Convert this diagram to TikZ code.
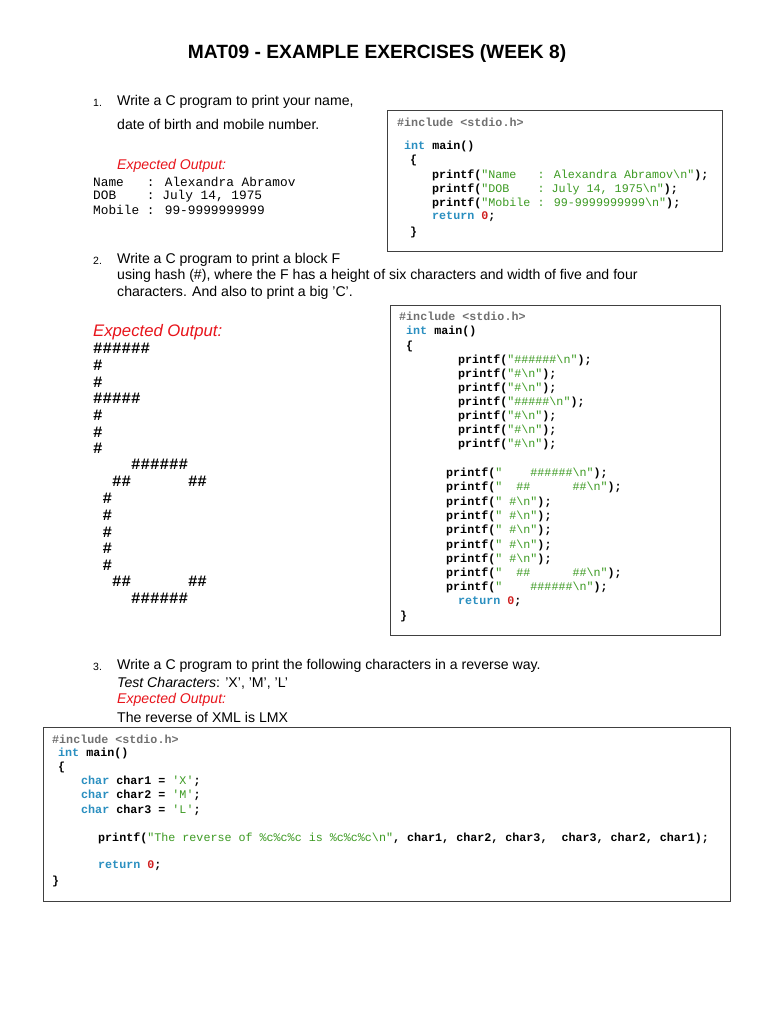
\documentclass[tikz,border=0pt]{standalone}
\usepackage{fontspec}
\setmainfont{Liberation Sans}
\newfontfamily\cod[Ligatures=NoCommon]{Liberation Mono}
\definecolor{kw}{HTML}{2A8FC0}
\definecolor{st}{HTML}{3C9A22}
\definecolor{nm}{HTML}{D02020}
\definecolor{inc}{HTML}{707070}
\definecolor{red1}{HTML}{E8141B}
\newcommand{\K}[1]{\textcolor{kw}{#1}}
\newcommand{\Sg}[1]{\textcolor{st}{\mdseries #1}}
\newcommand{\Nm}[1]{\textcolor{nm}{#1}}
\newcommand{\bs}{\textbackslash}
\begin{document}
\begin{tikzpicture}[x=1pt,y=-1pt,
  txt/.style={anchor=west,inner sep=0pt,font=\fontsize{14.1}{16}\selectfont},
  num/.style={anchor=west,inner sep=0pt,font=\fontsize{10.5}{12}\selectfont},
  eo/.style={anchor=west,inner sep=0pt,text=red1,font=\fontsize{14.1}{16}\selectfont\itshape},
  mo/.style={anchor=west,inner sep=0pt,font=\cod\fontsize{12.8}{14}\selectfont},
  hs/.style={anchor=west,inner sep=0pt,font=\cod\bfseries\fontsize{15.8}{17}\selectfont},
  cd/.style={anchor=west,inner sep=0pt,font=\cod\bfseries\fontsize{11.7}{13}\selectfont},
  box/.style={draw=black!75,line width=0.8pt,fill=white}]
\useasboundingbox[fill=white] (0,0) rectangle (768,1024);
\node[anchor=center,inner sep=0pt,font=\fontsize{19.2}{21}\selectfont\bfseries] (title) at (377,54) {MAT09 - EXAMPLE EXERCISES (WEEK 8)};
% section 1
\node[num] (n1) at (93,103) {1.};
\node[txt] (t1a) at (117,102) {Write a C program to print your name,};
\node[txt] (t1b) at (117,124) {date of birth and mobile number.};
\node[eo] (e1) at (117,166) {Expected Output:};
\node[mo] (m1) at (93,182) {Name~~~: Alexandra Abramov};
\node[mo] (m2) at (93,196) {DOB~~~~: July 14, 1975};
\node[mo] (m3) at (93,210) {Mobile : 99-9999999999};
\draw[box] (387,110) rectangle (722,251);
\node[cd,text=inc] (b1a) at (397,122) {\#include <stdio.h>};
\node[cd] (b1b) at (404,146) {\K{int} main()};
\node[cd] (b1c) at (410,160) {\{};
\node[cd] (b1d) at (432,175) {printf(\Sg{"Name~~~: Alexandra Abramov\bs n"});};
\node[cd] (b1e) at (432,189) {printf(\Sg{"DOB~~~~: July 14, 1975\bs n"});};
\node[cd] (b1f) at (432,203) {printf(\Sg{"Mobile : 99-9999999999\bs n"});};
\node[cd] (b1g) at (432,217) {\K{return} \Nm{0};};
\node[cd] (b1h) at (410,232) {\}};
% section 2
\node[num] (n2) at (93,261) {2.};
\node[txt] (t2a) at (117,260) {Write a C program to print a block F};
\node[txt] (t2b) at (117,276) {using hash (\#), where the F has a height of six characters and width of five and four};
\node[txt] (t2c) at (117,293) {characters. And also to print a big 'C'.};
\node[eo,font=\fontsize{16.7}{18}\selectfont\itshape] (e2) at (93,332) {Expected Output:};
\foreach \yy/\ss [count=\i] in {348/\#\#\#\#\#\#,365/\#,382/\#,398/\#\#\#\#\#,415/\#,432/\#,448/\#,
  464/~~~~\#\#\#\#\#\#,481/~~\#\#~~~~~~\#\#,498/~\#,515/~\#,532/~\#,548/~\#,565/~\#,581/~~\#\#~~~~~~\#\#,598/~~~~\#\#\#\#\#\#}
  \node[hs] (h\i) at (93,\yy) {\ss};
\draw[box] (390,305) rectangle (720,635);
\node[cd,text=inc] (b2a) at (399,316) {\#include <stdio.h>};
\node[cd] (b2b) at (406,331) {\K{int} main()};
\node[cd] (b2c) at (406,346) {\{};
\foreach \yy/\ss [count=\i] in {360/\#\#\#\#\#\#,374/\#,388/\#,402/\#\#\#\#\#,416/\#,430/\#,444/\#}
  \node[cd] (f\i) at (458,\yy) {printf(\Sg{"\ss\bs n"});};
\foreach \yy/\ss [count=\i] in {473/~~~~\#\#\#\#\#\#,487/~~\#\#~~~~~~\#\#,502/~\#,516/~\#,530/~\#,545/~\#,559/~\#,573/~~\#\#~~~~~~\#\#,587/~~~~\#\#\#\#\#\#}
  \node[cd] (c\i) at (446,\yy) {printf(\Sg{"\ss\bs n"});};
\node[cd] (b2r) at (458,602) {\K{return} \Nm{0};};
\node[cd] (b2e) at (400,616) {\}};
% section 3
\node[num] (n3) at (93,667) {3.};
\node[txt] (t3a) at (117,666) {Write a C program to print the following characters in a reverse way.};
\node[txt] (t3b) at (117,683) {\textit{Test Characters}: 'X', 'M', 'L'};
\node[eo] (e3) at (117,700) {Expected Output:};
\node[txt] (t3c) at (117,717) {The reverse of XML is LMX};
\draw[box] (43,727) rectangle (730,901);
\node[cd,text=inc] (b3a) at (52,739) {\#include <stdio.h>};
\node[cd] (b3b) at (58,753) {\K{int} main()};
\node[cd] (b3c) at (58,767) {\{};
\node[cd] (b3d) at (81,781) {\K{char} char1 = \Sg{'X'};};
\node[cd] (b3e) at (81,795) {\K{char} char2 = \Sg{'M'};};
\node[cd] (b3f) at (81,810) {\K{char} char3 = \Sg{'L'};};
\node[cd] (b3g) at (98,838) {printf(\Sg{"The reverse of \%c\%c\%c is \%c\%c\%c\bs n"}, char1, char2, char3,~ char3, char2, char1);};
\node[cd] (b3h) at (98,866) {\K{return} \Nm{0};};
\node[cd] (b3i) at (52,881) {\}};
\end{tikzpicture}
\end{document}
